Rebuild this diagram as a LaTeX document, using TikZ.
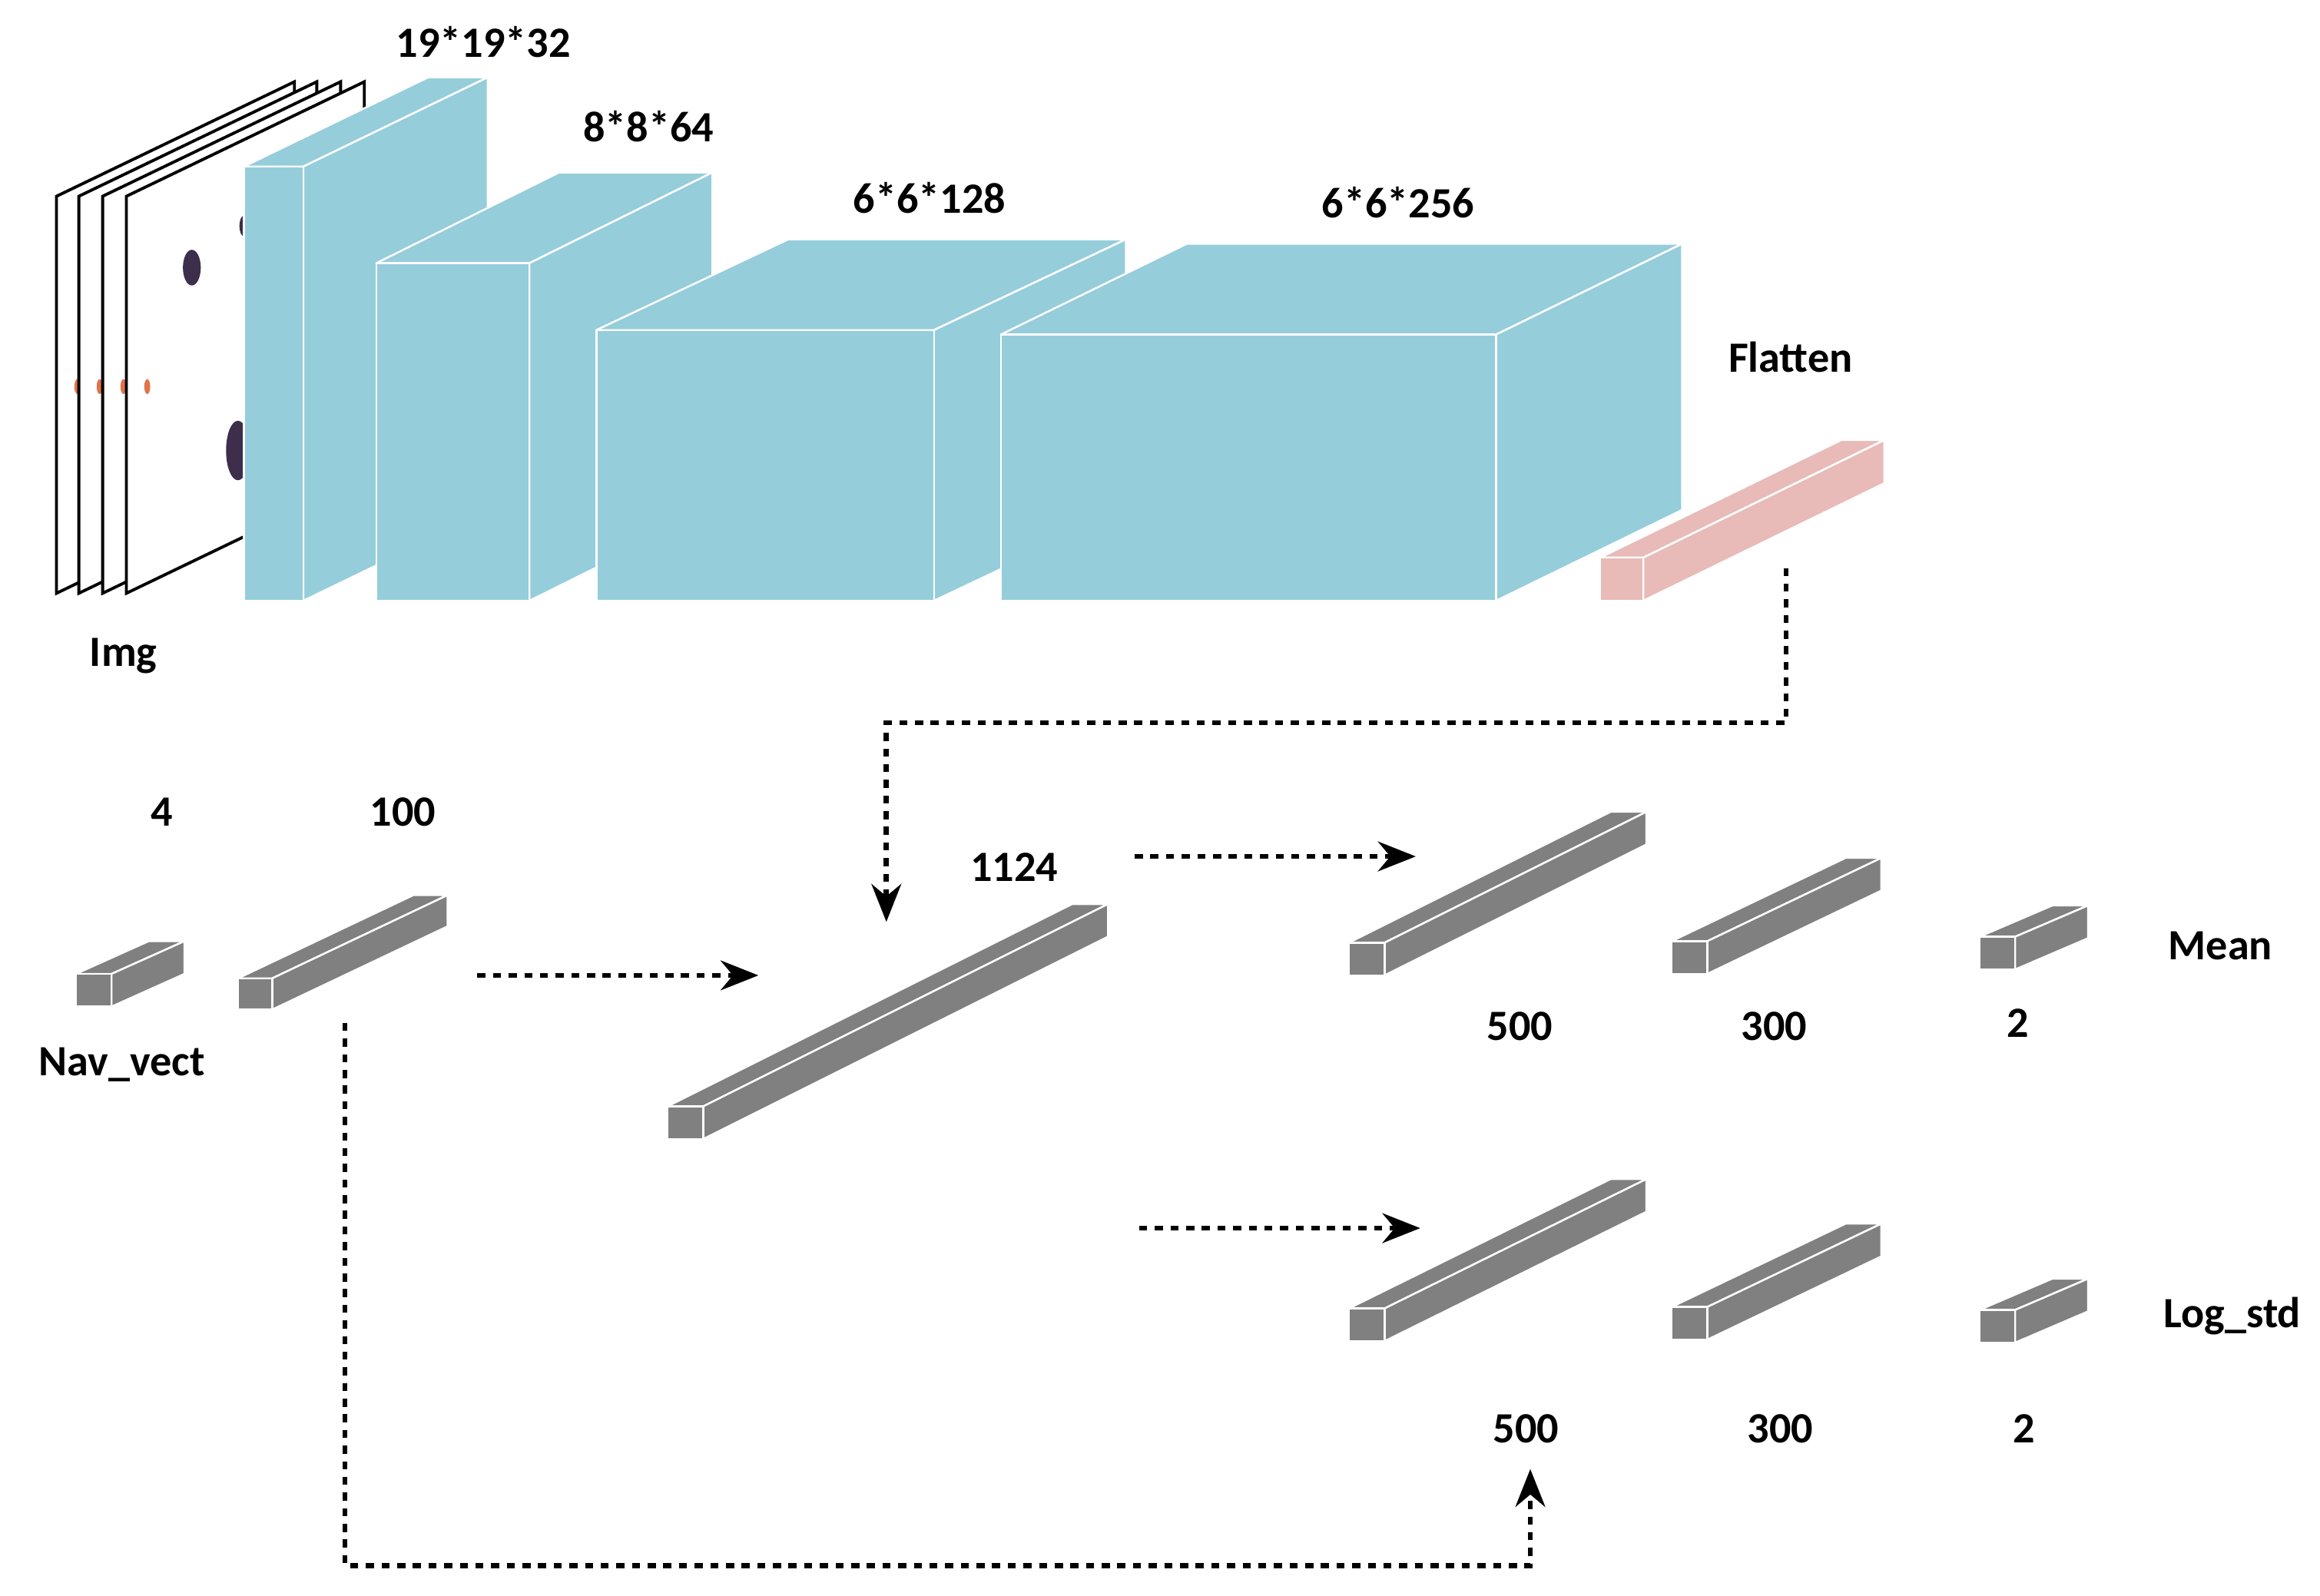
\documentclass[tikz,border=0pt]{standalone}
\usepackage{fontspec}
\setmainfont{Carlito}
\usetikzlibrary{arrows.meta}
\definecolor{cblue}{HTML}{95CDDB}
\definecolor{cpink}{HTML}{E8BBB8}
\definecolor{cgray}{HTML}{808080}
\definecolor{cdot}{HTML}{3D2E4C}
\definecolor{corange}{HTML}{E0734A}
\newcommand{\mycuboid}[7]{% x y(bottom) w h dx dy color
  \filldraw[fill=#7,draw=white,line width=0.7pt,line join=round]
    (#1,#2-#4) -- ++(#5,-#6) -- ++(#3,0) -- ++(-#5,#6) -- cycle;
  \filldraw[fill=#7,draw=white,line width=0.7pt,line join=round]
    (#1+#3,#2) -- ++(#5,-#6) -- ++(0,-#4) -- ++(-#5,#6) -- cycle;
  \filldraw[fill=#7,draw=white,line width=0.7pt]
    (#1,#2) rectangle ++(#3,-#4);
}
\begin{document}
\begin{tikzpicture}[x=0.01936cm,y=-0.01936cm,
  lab/.style={font=\fontsize{16}{18}\selectfont\bfseries},
  flow/.style={line width=1.9pt,dash pattern=on 3pt off 2.8pt,-{Stealth[length=14pt,width=11pt]}}]
\useasboundingbox (0,0) rectangle (1560,1073);
% image frames
\foreach \i/\x in {0/38,1/53,2/69,3/85}{
  \filldraw[fill=white,draw=black,line width=1.1pt] (\x,399) -- (\x,132) -- (\x+160,55) -- (\x+160,322) -- cycle;
  \fill[corange] (\x+14,260) ellipse (2 and 5);
}
\fill[cdot] (129,180) ellipse (6 and 12);
\fill[cdot] (160,303) ellipse (8 and 20);
\fill[cdot] (164,152) ellipse (3 and 7);
% conv blocks
\mycuboid{164}{404}{40}{292}{124}{60}{cblue}
\mycuboid{253}{404}{103}{227}{123}{61}{cblue}
\mycuboid{401}{404}{227}{182}{129}{61}{cblue}
\mycuboid{673}{404}{333}{179}{125}{61}{cblue}
\mycuboid{1076}{404}{29}{29}{162}{79}{cpink}
% vectors
\mycuboid{51}{677}{24}{22}{49}{22}{cgray}
\mycuboid{160}{679}{23}{21}{118}{56}{cgray}
\mycuboid{449}{766}{24}{22}{272}{136}{cgray}
\mycuboid{907}{656}{24}{22}{176}{88}{cgray}
\mycuboid{1124}{655}{24}{22}{117}{56}{cgray}
\mycuboid{1331}{652}{24}{22}{49}{21}{cgray}
\mycuboid{907}{902}{24}{22}{176}{87}{cgray}
\mycuboid{1124}{901}{24}{22}{117}{56}{cgray}
\mycuboid{1331}{903}{24}{22}{49}{21}{cgray}
% labels
\node[lab] (l1) at (325,28) {19*19*32};
\node[lab] (l2) at (436,85) {8*8*64};
\node[lab] (l3) at (625,133) {6*6*128};
\node[lab] (l4) at (940,136) {6*6*256};
\node[lab] (lf) at (1204,240) {Flatten};
\node[lab] (li) at (83,441) {Img};
\node[lab] (n4) at (109,546) {4};
\node[lab] (n100) at (271,546) {100};
\node[lab] (nv) at (82,716) {Nav\_vect};
\node[lab] (n1124) at (682,583) {1124};
\node[lab] (a500) at (1022,690) {500};
\node[lab] (a300) at (1193,690) {300};
\node[lab] (a2) at (1357,688) {2};
\node[lab] (mean) at (1493,636) {Mean};
\node[lab] (b500) at (1026,961) {500};
\node[lab] (b300) at (1197,961) {300};
\node[lab] (b2) at (1361,961) {2};
\node[lab] (lstd) at (1501,885) {Log\_std};
% arrows
\coordinate (f0) at (1201,382); \coordinate (f1) at (596,620);
\draw[flow] (f0) |- (596,486) -- (f1);
\coordinate (s0) at (321,656); \coordinate (s1) at (510,656);
\draw[flow] (s0) -- (s1);
\coordinate (t0) at (763,576); \coordinate (t1) at (952,576);
\draw[flow] (t0) -- (t1);
\coordinate (u0) at (766,826); \coordinate (u1) at (955,826);
\draw[flow] (u0) -- (u1);
\coordinate (v0) at (232,688); \coordinate (v1) at (1029,988);
\draw[flow] (v0) |- (1029,1053) -- (v1);
\end{tikzpicture}
\end{document}
